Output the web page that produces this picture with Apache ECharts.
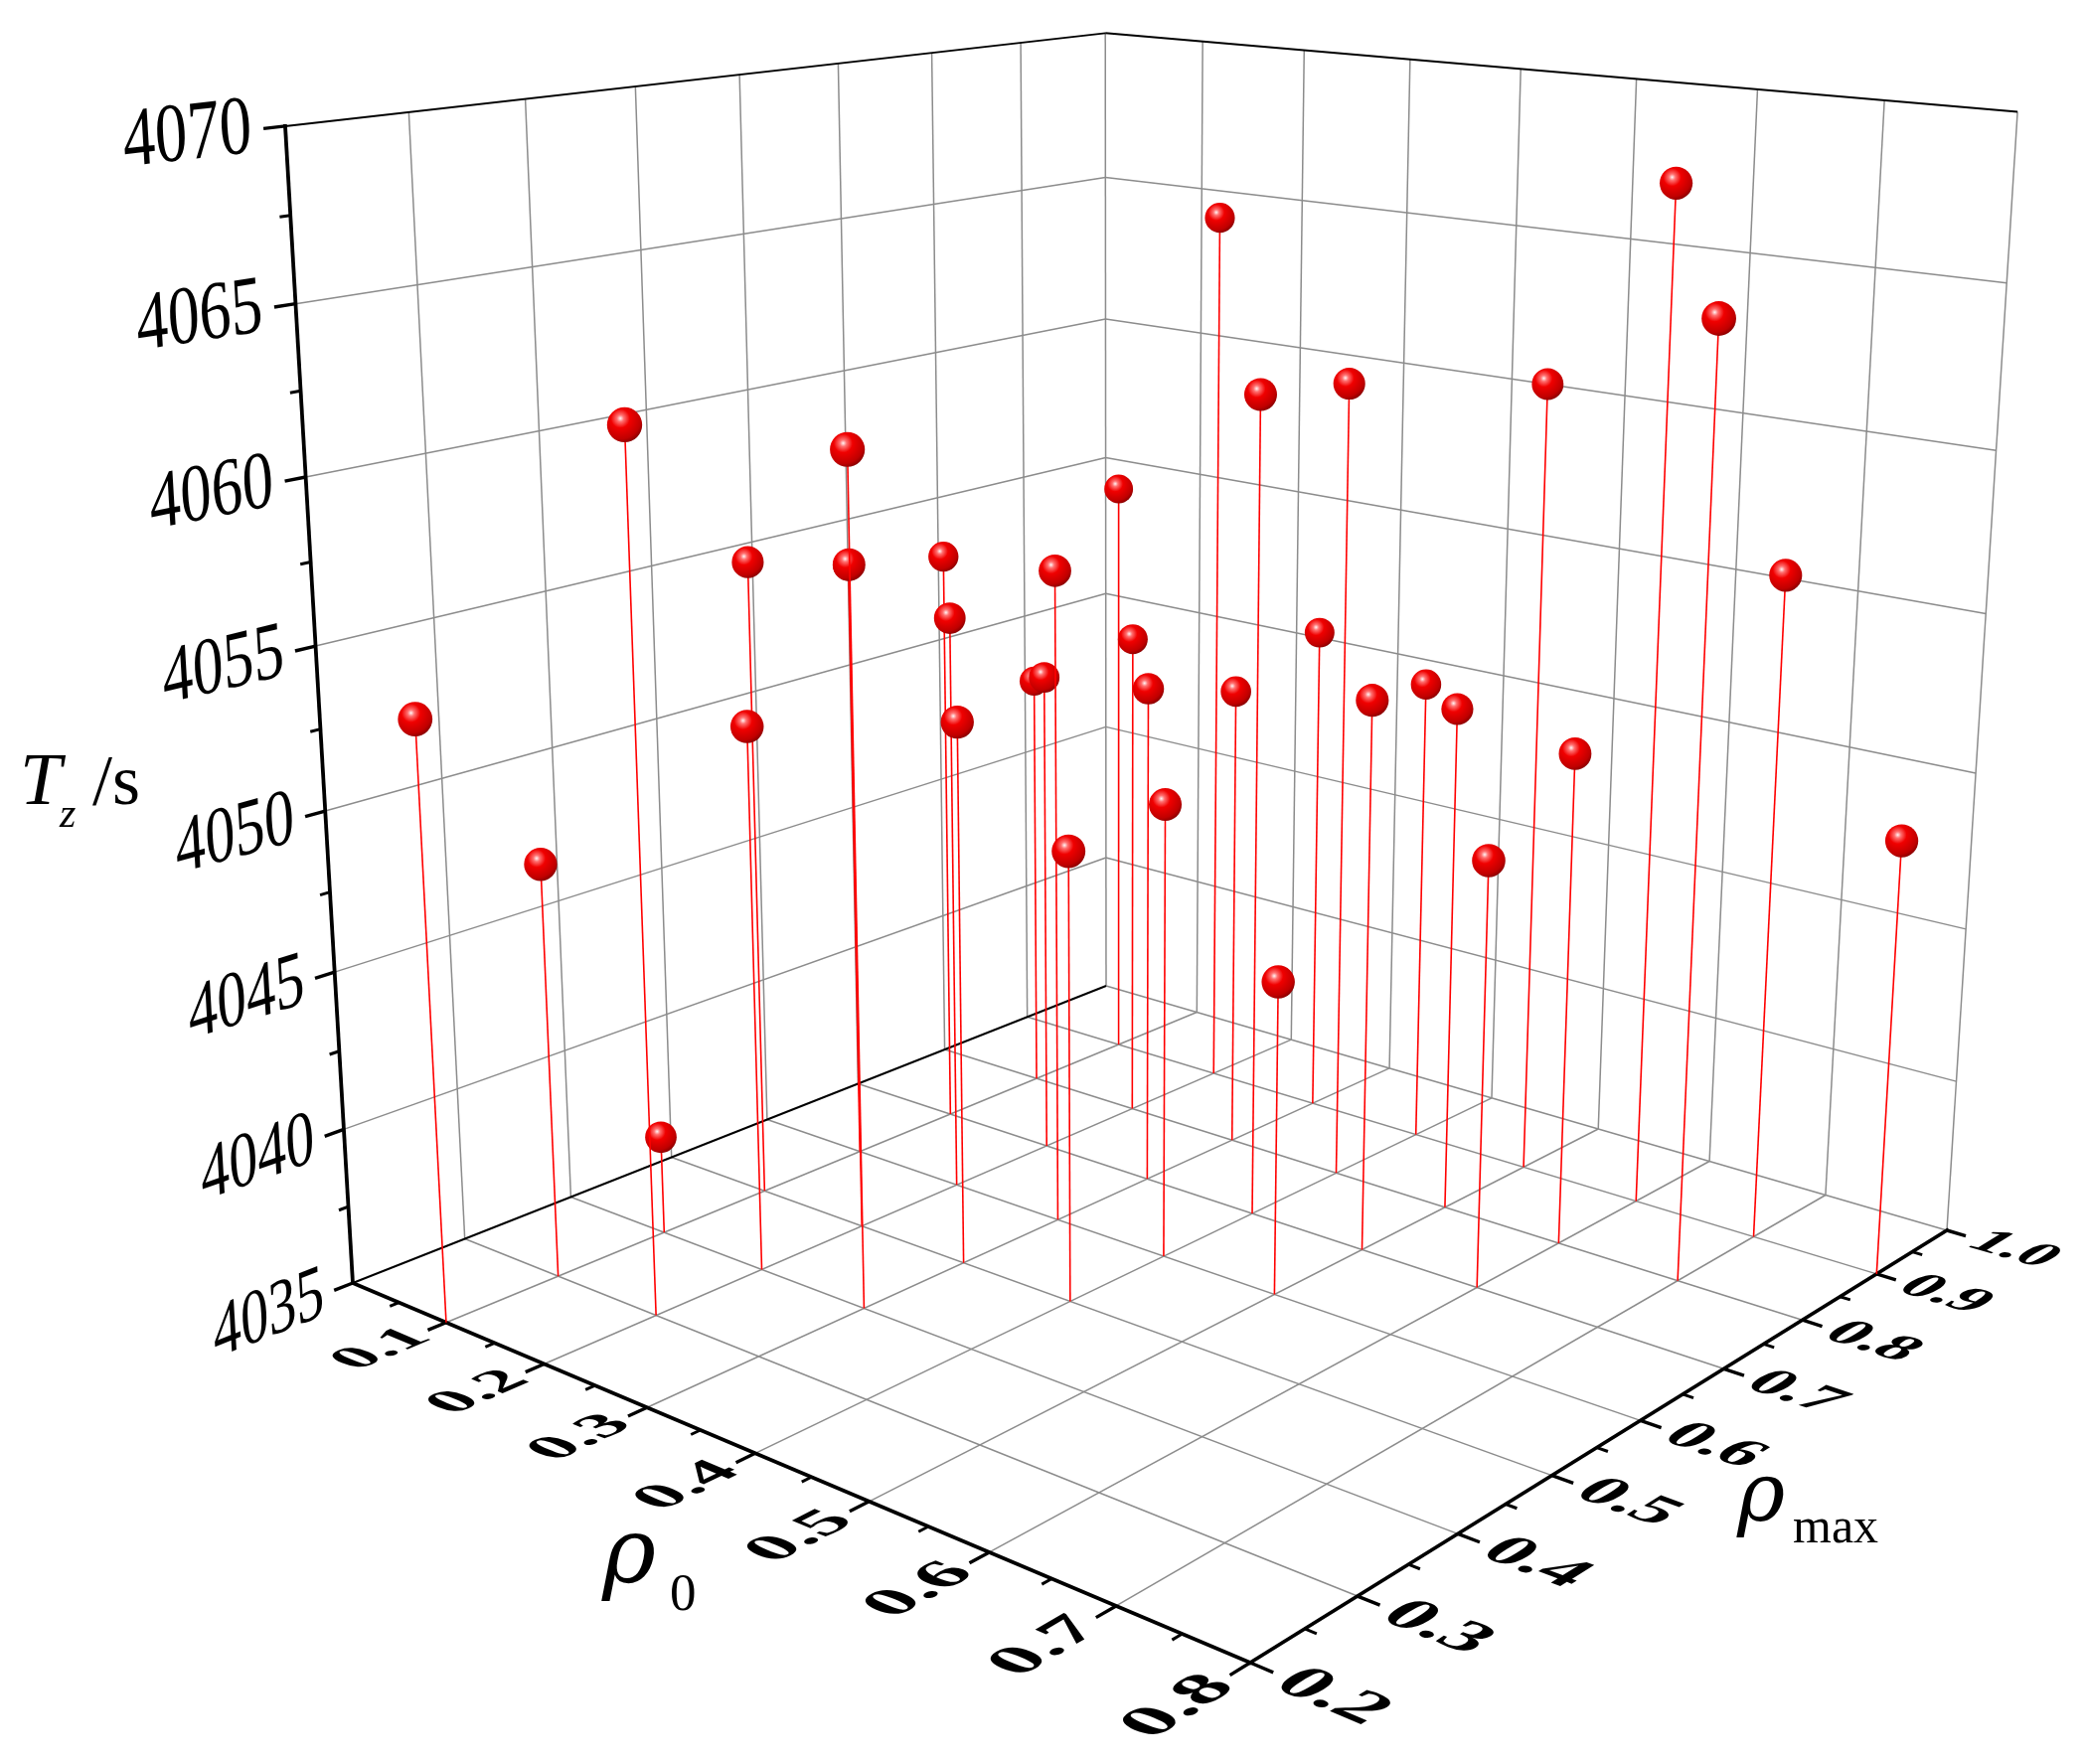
<!DOCTYPE html>
<html>
<head>
<meta charset="utf-8">
<title>Tz versus rho0 and rhomax</title>
<script src="https://cdn.jsdelivr.net/npm/echarts@6.0.0/dist/echarts.min.js"></script>
<style>
html,body{margin:0;padding:0;background:#ffffff;}
#chart{width:2099px;height:1775px;}
</style>
</head>
<body>
<div id="chart"></div>
<script>
// ---------------- data ----------------
const rho0Ticks   = [0.1, 0.2, 0.3, 0.4, 0.5, 0.6, 0.7, 0.8];
const rhomaxTicks = [0.2, 0.3, 0.4, 0.5, 0.6, 0.7, 0.8, 0.9, 1.0];
const tzTicks     = [4035, 4040, 4045, 4050, 4055, 4060, 4065, 4070];

const rho0Range   = [0, 0.8];
const rhomaxRange = [0.2, 1.0];
const tzRange     = [4035, 4070];

const rho0 = [
  0.1, 0.1, 0.1, 0.1, 0.1, 0.1, 0.1, 0.1,
  0.2, 0.2, 0.2, 0.2, 0.2, 0.2, 0.2,
  0.3, 0.3, 0.3, 0.3, 0.3, 0.3,
  0.4, 0.4, 0.4, 0.4, 0.4,
  0.5, 0.5, 0.5, 0.5,
  0.6, 0.6, 0.6,
  0.7, 0.7,
  0.8
];
const rhomax = [
  0.2, 0.3, 0.4, 0.5, 0.6, 0.7, 0.8, 0.9,
  0.3, 0.4, 0.5, 0.6, 0.7, 0.8, 0.9,
  0.4, 0.5, 0.6, 0.7, 0.8, 0.9,
  0.5, 0.6, 0.7, 0.8, 0.9,
  0.6, 0.7, 0.8, 0.9,
  0.7, 0.8, 0.9,
  0.8, 0.9,
  0.9
];
const tz = [
  4053.6, 4048.2, 4038.2, 4055.8, 4054.9, 4054.4, 4049.3, 4055.2,
  4062.0, 4052.3, 4056.4, 4053.9, 4051.1, 4051.5, 4064.9,
  4061.2, 4052.3, 4056.1, 4051.5, 4050.5, 4051.6,
  4049.2, 4049.6, 4061.4, 4061.1, 4050.6,
  4045.0, 4052.7, 4051.5, 4061.0,
  4048.6, 4050.9, 4067.6,
  4064.6, 4056.3,
  4048.9
];

// ---------------- layout: where the box corners sit on the page ----------------
const FLOOR = [[355, 1291], [1258, 1673], [1959, 1238], [1113, 992]]; // (min,min) (max,min) (max,max) (min,max)
const TOP = { L: [287, 127], B: [1112, 32], R: [2030, 114] };

const lmap = (echarts.number && echarts.number.linearMap) ||
  function (v, d, r) { return r[0] + (v - d[0]) / (d[1] - d[0]) * (r[1] - r[0]); };
const nu = x => lmap(x, rho0Range, [0, 1]);
const nv = x => lmap(x, rhomaxRange, [0, 1]);
const nw = x => lmap(x, tzRange, [0, 1]);

// perspective model: floor homography + vertical vanishing point
function homography(p0, p1, p2, p3) {
  const dx1 = p1[0] - p2[0], dy1 = p1[1] - p2[1];
  const dx2 = p3[0] - p2[0], dy2 = p3[1] - p2[1];
  const dx3 = p0[0] - p1[0] + p2[0] - p3[0], dy3 = p0[1] - p1[1] + p2[1] - p3[1];
  const den = dx1 * dy2 - dx2 * dy1;
  const g = (dx3 * dy2 - dx2 * dy3) / den, h = (dx1 * dy3 - dx3 * dy1) / den;
  return { a: p1[0] - p0[0] + g * p1[0], b: p3[0] - p0[0] + h * p3[0], c: p0[0],
           d: p1[1] - p0[1] + g * p1[1], e: p3[1] - p0[1] + h * p3[1], f: p0[1], g: g, h: h };
}
function intersect(p1, p2, p3, p4) {
  const den = (p1[0] - p2[0]) * (p3[1] - p4[1]) - (p1[1] - p2[1]) * (p3[0] - p4[0]);
  const t = ((p1[0] - p3[0]) * (p3[1] - p4[1]) - (p1[1] - p3[1]) * (p3[0] - p4[0])) / den;
  return [p1[0] + t * (p2[0] - p1[0]), p1[1] + t * (p2[1] - p1[1])];
}
const H = homography(FLOOR[0], FLOOR[1], FLOOR[2], FLOOR[3]);
const VP = intersect(TOP.L, FLOOR[0], TOP.R, FLOOR[2]);
const Wf = (u, v) => H.g * u + H.h * v + 1;
const K = ((VP[1] - TOP.L[1]) / (TOP.L[1] - FLOOR[0][1]) / Wf(0, 0) +
           (VP[1] - TOP.B[1]) / (TOP.B[1] - FLOOR[3][1]) / Wf(0, 1) +
           (VP[1] - TOP.R[1]) / (TOP.R[1] - FLOOR[2][1]) / Wf(1, 1)) / 3;

function persp(u, v, w) { return K * Wf(u, v) + w; }
function P(u, v, w) {
  const X = H.a * u + H.b * v + H.c, Y = H.d * u + H.e * v + H.f;
  const hz = persp(u, v, w);
  return [(K * X + w * VP[0]) / hz, (K * Y + w * VP[1]) / hz];
}
function unit(a, b) { const dx = b[0] - a[0], dy = b[1] - a[1], l = Math.hypot(dx, dy); return [dx / l, dy / l]; }
function sdir(p, d) { return unit(P(p[0], p[1], p[2]), P(p[0] + d[0] * 1e-3, p[1] + d[1] * 1e-3, p[2] + d[2] * 1e-3)); }

// ---------------- styles ----------------
const GRID = '#8c8c8c', GRID_W = 1.5;
const SERIF = "'Liberation Serif', 'Times New Roman', serif";
const GREEK = "'DejaVu Serif', 'Liberation Serif', serif";

function seg(p, q, stroke, lw, cap) {
  return { type: 'line', shape: { x1: p[0], y1: p[1], x2: q[0], y2: q[1] },
           style: { stroke: stroke, lineWidth: lw, lineCap: cap || 'butt' } };
}
function plainText(text, x, y, font) {
  return { type: 'text', style: { text: text, x: x, y: y, font: font, fill: '#000',
           align: 'left', verticalAlign: 'middle', textAlign: 'left', textVerticalAlign: 'middle' } };
}
// text placed with an arbitrary 2x2 map (columns: image of text x, image of text y)
function mappedText(text, anchor, c1, c2, font) {
  const m00 = c1[0], m10 = c1[1], m01 = c2[0], m11 = c2[1];
  const E = (m00 + m11) / 2, F = (m00 - m11) / 2, G = (m10 + m01) / 2, Hh = (m10 - m01) / 2;
  const Q = Math.hypot(E, Hh), R = Math.hypot(F, G);
  const a1 = Math.atan2(G, F), a2 = Math.atan2(Hh, E);
  const theta = (a2 - a1) / 2, phi = (a2 + a1) / 2;
  return { type: 'group', x: anchor[0], y: anchor[1], rotation: -phi, scaleX: Q + R, scaleY: Q - R,
    children: [{ type: 'text', rotation: -theta,
      style: { text: text, x: 0, y: 0, font: font, fill: '#000',
               align: 'center', verticalAlign: 'middle', textAlign: 'center', textVerticalAlign: 'middle' } }] };
}
function tickSeg(p3, d3, len, lw) {
  const a = P(p3[0], p3[1], p3[2]);
  const d = sdir(p3, d3);
  return seg(a, [a[0] + d[0] * len, a[1] + d[1] * len], '#000', lw, 'butt');
}
function mids(arr) { const out = []; for (let i = 0; i < arr.length - 1; i++) out.push((arr[i] + arr[i + 1]) / 2); return out; }

function frameItem() {
  const ch = [];
  // floor grid
  rho0Ticks.forEach(t => { if (t < rho0Range[1]) { const u = nu(t); ch.push(seg(P(u, 0, 0), P(u, 1, 0), GRID, GRID_W)); } });
  rhomaxTicks.forEach(t => { if (t > rhomaxRange[0]) { const v = nv(t);
    ch.push(seg(P(0, v, 0), P(1, v, 0), GRID, GRID_W));
    ch.push(seg(P(0, v, 0), P(0, v, 1), GRID, GRID_W)); } });
  rho0Ticks.forEach(t => { const u = nu(t); ch.push(seg(P(u, 1, 0), P(u, 1, 1), GRID, GRID_W)); });
  tzTicks.forEach(t => { if (t > tzRange[0] && t < tzRange[1]) { const w = nw(t);
    ch.push(seg(P(0, 0, w), P(0, 1, w), GRID, GRID_W));
    ch.push(seg(P(0, 1, w), P(1, 1, w), GRID, GRID_W)); } });
  // thin black edges
  ch.push(seg(P(0, 0, 0), P(0, 1, 0), '#000', 2));
  ch.push(seg(P(0, 0, 1), P(0, 1, 1), '#000', 2));
  ch.push(seg(P(0, 1, 1), P(1, 1, 1), '#000', 2));
  // main axes
  ch.push(seg(P(0, 0, 0), P(0, 0, 1), '#000', 3.8, 'square'));
  ch.push(seg(P(0, 0, 0), P(1, 0, 0), '#000', 3.8, 'square'));
  ch.push(seg(P(1, 0, 0), P(1, 1, 0), '#000', 3.8, 'square'));

  // Tz ticks + labels (left wall, pointing -rhomax)
  const tzRef = persp(0, 0, 1);
  tzTicks.forEach(t => { const w = nw(t), S = tzRef / persp(0, 0, w);
    ch.push(tickSeg([0, 0, w], [0, -1, 0], 22 * S, 3.4)); });
  mids(tzTicks).forEach(t => { const w = nw(t), S = tzRef / persp(0, 0, w);
    ch.push(tickSeg([0, 0, w], [0, -1, 0], 11 * S, 3.0)); });
  tzTicks.forEach(t => {
    const w = nw(t), S = tzRef / persp(0, 0, w);
    const a = P(0, 0, w), off = sdir([0, 0, w], [0, -1, 0]);
    const anchor = [a[0] + off[0] * 99 * S, a[1] + off[1] * 99 * S];
    const b = sdir([0, 0, w], [0, 1, 0]), dn = sdir([0, 0, w], [0, 0, -1]);
    ch.push(mappedText(String(t), anchor, [b[0] * S, b[1] * S], [dn[0] * S * 1.3, dn[1] * S * 1.3], '65px ' + SERIF));
  });

  // floor ticks
  const fRef = persp(nu(0.1), 0, 0);
  rho0Ticks.forEach(t => { const u = nu(t), S = fRef / persp(u, 0, 0);
    ch.push(tickSeg([u, 0, 0], [0, -1, 0], 20 * S, 3.4)); });
  mids([0].concat(rho0Ticks)).forEach(t => { const u = nu(t), S = fRef / persp(u, 0, 0);
    ch.push(tickSeg([u, 0, 0], [0, -1, 0], 10 * S, 3.0)); });
  rhomaxTicks.forEach(t => { const v = nv(t), S = fRef / persp(1, v, 0);
    ch.push(tickSeg([1, v, 0], [1, 0, 0], 21 * S, 3.4)); });
  mids(rhomaxTicks).forEach(t => { const v = nv(t), S = fRef / persp(1, v, 0);
    ch.push(tickSeg([1, v, 0], [1, 0, 0], 11 * S, 3.0)); });

  // floor labels
  rho0Ticks.forEach(t => {
    const u = nu(t), S = fRef / persp(u, 0, 0);
    const a = P(u, 0, 0), off = sdir([u, 0, 0], [0, -1, 0]);
    const anchor = [a[0] + off[0] * 70 * S, a[1] + off[1] * 70 * S];
    const b = sdir([u, 0, 0], [0, 1, 0]), dn = sdir([u, 0, 0], [1, 0, 0]);
    ch.push(mappedText(t.toFixed(1), anchor, [b[0] * S, b[1] * S], [dn[0] * S * 0.8, dn[1] * S * 0.8], 'bold 68px ' + SERIF));
  });
  rhomaxTicks.forEach(t => {
    const v = nv(t), S = fRef / persp(1, v, 0);
    const a = P(1, v, 0), off = sdir([1, v, 0], [1, 0, 0]);
    const anchor = [a[0] + off[0] * 74 * S, a[1] + off[1] * 74 * S];
    const b = sdir([1, v, 0], [1, 0, 0]), dn = sdir([1, v, 0], [0, -1, 0]);
    ch.push(mappedText(t.toFixed(1), anchor, [b[0] * S, b[1] * S], [dn[0] * S * 0.8, dn[1] * S * 0.8], 'bold 68px ' + SERIF));
  });

  // axis titles
  ch.push(plainText('T', 20, 789, 'italic 75px ' + SERIF));
  ch.push(plainText('z', 60, 821, 'italic 42px ' + SERIF));
  ch.push(plainText('/s', 93, 790, '72px ' + SERIF));
  ch.push(plainText('\u03C1', 606, 1568, 'italic 92px ' + GREEK));
  ch.push(plainText('0', 674, 1606, '53px ' + SERIF));
  ch.push(plainText('\u03C1', 1748, 1509, 'italic 82px ' + GREEK));
  ch.push(plainText('max', 1804, 1539, '50px ' + SERIF));
  return { type: 'group', children: ch };
}

// points, drawn far to near
const order = rho0.map((_, i) => i).sort((i, j) =>
  persp(nu(rho0[i]), nv(rhomax[i]), nw(tz[i])) - persp(nu(rho0[j]), nv(rhomax[j]), nw(tz[j])));
const pointData = order.map(i => [rho0[i], rhomax[i], tz[i]]);
const BALL_K = 200;

function pointItem(params, api) {
  const u = nu(api.value(0)), v = nv(api.value(1)), w = nw(api.value(2));
  const top = P(u, v, w), foot = P(u, v, 0);
  const r = BALL_K / (-persp(u, v, w));
  return { type: 'group', children: [
    { type: 'line', shape: { x1: top[0], y1: top[1], x2: foot[0], y2: foot[1] },
      style: { stroke: '#ff0000', lineWidth: 1.6 } },
    { type: 'circle', shape: { cx: top[0], cy: top[1], r: r },
      style: { fill: new echarts.graphic.RadialGradient(0.38, 0.32, 0.75, [
        { offset: 0, color: '#fff4f4' }, { offset: 0.13, color: '#ff7070' },
        { offset: 0.36, color: '#f00000' }, { offset: 0.78, color: '#c00000' },
        { offset: 1, color: '#780000' }]) } }
  ] };
}

const chart = echarts.init(document.getElementById('chart'), null, { renderer: 'canvas', width: 2099, height: 1775 });
chart.setOption({
  backgroundColor: '#ffffff',
  animation: false,
  series: [
    { type: 'custom', name: 'frame', coordinateSystem: 'none', silent: true, z: 1,
      data: [[0]], renderItem: frameItem },
    { type: 'custom', name: 'Tz', coordinateSystem: 'none', silent: true, z: 2,
      data: pointData, renderItem: pointItem }
  ]
});
</script>
</body>
</html>
